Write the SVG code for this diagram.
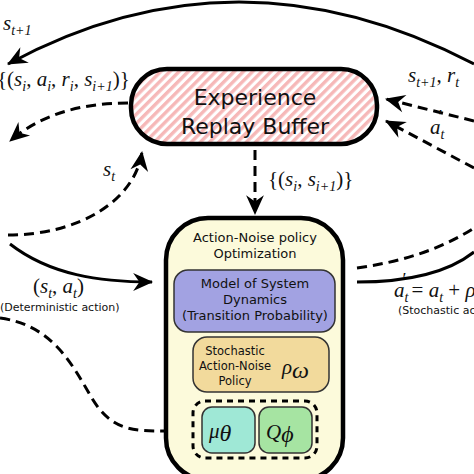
<svg xmlns="http://www.w3.org/2000/svg" width="474" height="474" viewBox="0 0 474 474">
<defs>
  <pattern id="hatch" patternUnits="userSpaceOnUse" width="6.5" height="6.5" patternTransform="rotate(45)">
    <rect width="6.5" height="6.5" fill="#ffffff"/>
    <rect width="3.4" height="6.5" fill="#f6b8b8"/>
  </pattern>
  <marker id="ah" markerUnits="userSpaceOnUse" markerWidth="22" markerHeight="22" refX="0" refY="0" viewBox="-19 -10 21 20" orient="auto">
    <path d="M1,0 L-18,-8.5 L-12,0 L-18,8.5 Z" fill="#000"/>
  </marker>
</defs>
<style>
  .conn{fill:none;stroke:#000;stroke-width:3;}
  .dash{stroke-dasharray:10 6;}
  .sans{font-family:"DejaVu Sans","Liberation Sans",sans-serif;fill:#111;}
  .m{font-family:"Liberation Serif","DejaVu Serif",serif;font-size:21px;fill:#111;}
  .i{font-style:italic;}
  .sb{font-size:14px;font-style:italic;}
  .pr{font-size:18px;}
  .note{font-family:"DejaVu Sans","Liberation Sans",sans-serif;font-size:11px;fill:#111;}
</style>

<g id="connectors">
  <path class="conn" d="M474,64 Q237,-60 8,64" marker-end="url(#ah)"/>
  <path class="conn dash" d="M128,103 C80,103 40,115 10,141" marker-end="url(#ah)"/>
  <path class="conn dash" d="M8,235 C80,235 135,200 142,152" marker-end="url(#ah)"/>
  <path class="conn" d="M10,244 C50,275 100,282 152,282" marker-end="url(#ah)"/>
  <path class="conn dash" d="M255,150 L255,214" marker-end="url(#ah)"/>
  <path class="conn dash" d="M474,121 L386,99" marker-end="url(#ah)"/>
  <path class="conn dash" d="M474,168 L386,121" marker-end="url(#ah)"/>
  <path class="conn dash" d="M357,268 C400,262 440,250 474,228"/>
  <path class="conn" d="M357,282 C400,282 445,275 474,252"/>
  <path class="conn dash" d="M0,318 C50,325 70,360 90,395 S130,431 165,431 L193,431"/>
</g>

<g id="buffer">
  <rect x="131" y="69" width="246" height="75" rx="36" fill="url(#hatch)" stroke="#000" stroke-width="4.5"/>
  <text class="sans" x="255" y="105" font-size="22" text-anchor="middle">Experience</text>
  <text class="sans" x="255" y="134" font-size="22" text-anchor="middle">Replay Buffer</text>
</g>

<g id="optimization">
  <rect x="166" y="218" width="177" height="262" rx="42" fill="#fcfadb" stroke="#000" stroke-width="4.5"/>
  <text class="sans" x="255" y="242" font-size="13" text-anchor="middle">Action-Noise policy</text>
  <text class="sans" x="255" y="258" font-size="13" text-anchor="middle">Optimization</text>
</g>

<g id="dynamics">
  <rect x="174" y="270" width="161" height="62" rx="14" fill="#a2a2e2" stroke="#333" stroke-width="1.5"/>
  <text class="sans" x="255" y="288" font-size="13" text-anchor="middle">Model of System</text>
  <text class="sans" x="255" y="304" font-size="13" text-anchor="middle">Dynamics</text>
  <text class="sans" x="255" y="320" font-size="13" text-anchor="middle">(Transition Probability)</text>
</g>

<g id="noise-policy">
  <rect x="193" y="337" width="136" height="55" rx="14" fill="#f2da9c" stroke="#333" stroke-width="1.5"/>
  <text class="sans" x="235" y="355" font-size="11.5" text-anchor="middle">Stochastic</text>
  <text class="sans" x="235" y="370" font-size="11.5" text-anchor="middle">Action-Noise</text>
  <text class="sans" x="235" y="385" font-size="11.5" text-anchor="middle">Policy</text>
  <text class="m i" x="282" y="374" font-size="34">ρ<tspan font-size="24" dy="4">ω</tspan></text>
</g>

<g id="actor-critic">
  <rect x="193" y="401" width="124" height="57" rx="12" fill="none" stroke="#000" stroke-width="3" stroke-dasharray="6 5"/>
</g>

<g id="actor">
  <rect x="202" y="407" width="53" height="46" rx="10" fill="#9fe8d6" stroke="#333" stroke-width="1.5"/>
  <text class="m i" x="209" y="438" font-size="40">μ<tspan font-size="24" dy="3">θ</tspan></text>
</g>

<g id="critic">
  <rect x="259" y="407" width="53" height="46" rx="10" fill="#a6e4a2" stroke="#333" stroke-width="1.5"/>
  <text class="m i" x="266" y="439" font-size="36">Q<tspan font-size="24" dy="3">ϕ</tspan></text>
</g>

<g id="labels">
  <text class="m" x="3" y="30"><tspan class="i">s</tspan><tspan class="sb" dy="5">t+1</tspan></text>
  <text class="m" x="-3" y="86">{(<tspan class="i">s</tspan><tspan class="sb" dy="5">i</tspan><tspan dy="-5">, </tspan><tspan class="i">a</tspan><tspan class="sb" dy="5">i</tspan><tspan dy="-5">, </tspan><tspan class="i">r</tspan><tspan class="sb" dy="5">i</tspan><tspan dy="-5">, </tspan><tspan class="i">s</tspan><tspan class="sb" dy="5">i+1</tspan><tspan dy="-5">)}</tspan></text>
  <text class="m" x="103" y="176"><tspan class="i">s</tspan><tspan class="sb" dy="5">t</tspan></text>
  <text class="m" x="33" y="293">(<tspan class="i">s</tspan><tspan class="sb" dy="5">t</tspan><tspan dy="-5">, </tspan><tspan class="i">a</tspan><tspan class="sb" dy="5">t</tspan><tspan dy="-5">)</tspan></text>
  <text class="note" x="0" y="311">(Deterministic action)</text>
  <text class="m" x="268" y="186">{(<tspan class="i">s</tspan><tspan class="sb" dy="5">i</tspan><tspan dy="-5">, </tspan><tspan class="i">s</tspan><tspan class="sb" dy="5">i+1</tspan><tspan dy="-5">)}</tspan></text>
  <text class="m" x="408" y="82"><tspan class="i">s</tspan><tspan class="sb" dy="5">t+1</tspan><tspan dy="-5">, </tspan><tspan class="i">r</tspan><tspan class="sb" dy="5">t</tspan></text>
  <text class="m" x="430" y="134"><tspan class="i">a</tspan><tspan class="sb" dy="5">t</tspan><tspan class="pr" dx="-6" dy="-16">′</tspan></text>
  <text class="m" x="394" y="297"><tspan class="i">a</tspan><tspan class="sb" dy="5">t</tspan><tspan class="pr" dx="-6" dy="-16">′</tspan><tspan dy="11"> = </tspan><tspan class="i">a</tspan><tspan class="sb" dy="5">t</tspan><tspan dy="-5"> + </tspan><tspan class="i">ρ</tspan></text>
  <text class="note" x="398" y="314">(Stochastic action)</text>
</g>
</svg>
